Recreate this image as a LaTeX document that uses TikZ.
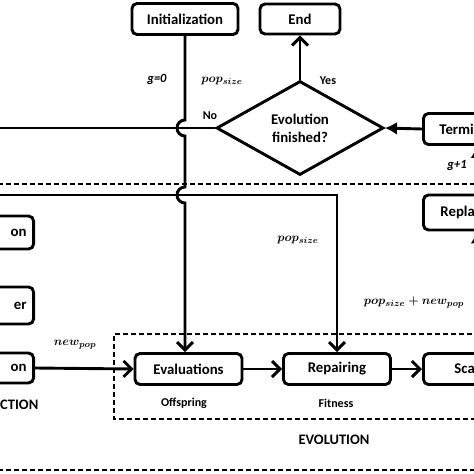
\documentclass[tikz,border=0pt]{standalone}
\usepackage{fontspec}
\setmainfont{Carlito}
\usepackage{amsmath}
\usetikzlibrary{shapes.geometric,arrows.meta,calc}

\begin{document}
\begin{tikzpicture}[x=1pt, y=-1pt,
  box/.style={draw, line width=2.9pt, rounded corners=5pt, inner sep=0pt,
    font=\fontsize{14.8}{18}\selectfont\bfseries},
  decision/.style={draw, diamond, aspect=1.78, line width=2.9pt, inner sep=0pt,
    minimum width=167pt, minimum height=94pt, align=center,
    font=\fontsize{14.8}{18}\selectfont\bfseries},
  flow/.style={line width=2.9pt},
  barb/.style={-{Straight Barb[length=8pt, width=16pt]}},
  tri/.style={-{Latex[length=12pt, width=13pt]}},
  dashline/.style={line width=1.6pt, dash pattern=on 5pt off 3pt},
  small/.style={font=\fontsize{12}{14}\selectfont\bfseries},
  gvar/.style={font=\fontsize{12.5}{14}\selectfont\bfseries\itshape},
  mathlbl/.style={font=\fontsize{12.3}{14}\selectfont\boldmath},
  title/.style={font=\fontsize{14.5}{18}\selectfont\bfseries}]
\useasboundingbox (0, 0) rectangle (474, 474);
\clip (0, 0) rectangle (474, 474);
%\draw [anchor=north west] (0, 0) node {\includegraphics[width=474pt]{flow_crop}};

% top: start, end, test
\draw (185, 19) node [box, minimum width=106pt, minimum height=31pt] (init) {Initialization};
\draw (300, 19) node [box, minimum width=80pt, minimum height=30pt] (fin) {End};
\draw (300, 128) node [decision] (evo) {Evolution\\finished?};
\draw (422, 129) node [box, anchor=west, text width=80pt, align=left, inner xsep=16pt, minimum height=31pt] (term) {Termi};
\draw (422, 212.5) node [box, anchor=west, text width=80pt, align=left, inner xsep=17pt, minimum height=35pt] (replac) {Repla};

% left column (cut off)
\draw (35, 232.5) node [box, anchor=east, text width=60pt, align=right, inner xsep=7pt, minimum height=33pt] (lefttop) {on};
\draw (35, 305.5) node [box, anchor=east, text width=60pt, align=right, inner xsep=7pt, minimum height=37pt] (leftmid) {er};
\draw (35, 368) node [box, anchor=east, text width=60pt, align=right, inner xsep=7pt, minimum height=30pt] (leftbot) {on};
\draw (0, 405) node [title, anchor=west, inner xsep=0pt] (selname) {CTION};

% evolution row
\draw (188.5, 369) node [box, minimum width=107pt, minimum height=31pt] (eval) {Evaluations};
\draw (337, 369) node [box, minimum width=107pt, minimum height=31pt] (rep) {Repairing};
\draw (422, 369) node [box, anchor=west, text width=80pt, align=left, inner xsep=31pt, minimum height=31pt] (scal) {Sca};

% labels
\draw (157, 79) node [gvar] (gzero) {g=0};
\draw (222, 81) node [mathlbl] (popA) {$pop_{size}$};
\draw (328, 81) node [small] (yes) {Yes};
\draw (210, 116) node [small] (no) {No};
\draw (457, 165) node [gvar] (gnext) {g+1};
\draw (298, 240) node [mathlbl] (popB) {$pop_{size}$};
\draw (414, 303) node [mathlbl] (popnew) {$pop_{size} + new_{pop}$};
\draw (75, 345) node [mathlbl] (newpop) {$new_{pop}$};
\draw (184, 403) node [small] (offspring) {Offspring};
\draw (336, 403) node [small] (fitness) {Fitness};
\draw (334, 440) node [title] (evoname) {EVOLUTION};

% free ends off the crop
\coordinate (noleft) at (-6, 128);
\coordinate (popleft) at (-6, 195);
\coordinate (gup) at (477, 0);
\coordinate (rup) at (477, 300);

% dashed separators
\draw [dashline] (-2, 184) -- (476, 184);
\draw [dashline] (-2, 470) -- (476, 470);
\draw [dashline] (480, 334) -- (114, 334) -- (114, 419) -- (480, 419);

% connectors
\draw [flow, barb] (evo.north) -- (fin.south);
\draw [flow] (evo.west) -- (noleft);
\draw [flow, tri] (term.west) -- (evo.east);
\draw [flow, tri] (replac.north -| gup) -- (term.south -| gup);
\draw [flow, tri] (rup) -- (replac.south -| rup);
\draw [flow, barb] (init.south) -- ($(init.south |- noleft) + (0, -8)$)
  arc [start angle=270, end angle=90, radius=8]
  -- ($(init.south |- popleft) + (0, -8)$)
  arc [start angle=270, end angle=90, radius=8]
  -- (init.south |- eval.north);
\draw [flow, barb] (popleft) -| (rep.north);
\draw [flow, barb] (leftbot.east) -- (eval.west);
\draw [flow, barb] (eval.east) -- (rep.west);
\draw [flow, barb] (rep.east) -- (scal.west);
\end{tikzpicture}
\end{document}
